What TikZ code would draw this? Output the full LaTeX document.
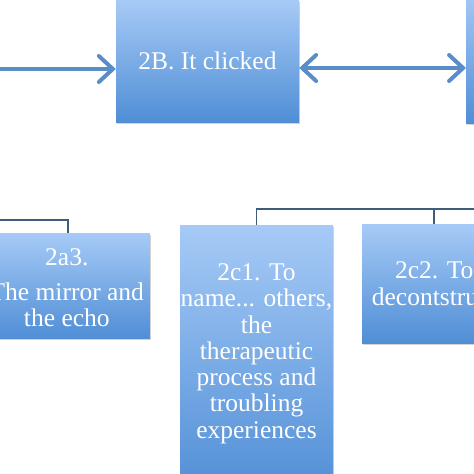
\documentclass[tikz,border=0pt]{standalone}
\usepackage{fontspec}
\setmainfont{Liberation Serif}
\usetikzlibrary{arrows.meta,positioning,shadows}
\definecolor{boxtop}{RGB}{166,202,246}
\definecolor{boxbot}{RGB}{80,142,214}
\definecolor{arrowblue}{RGB}{90,140,200}
\definecolor{treeline}{RGB}{64,92,124}
\tikzset{
  box/.style ={rectangle, top color=boxtop, bottom color=boxbot, text=white,
    align=center, inner sep=2pt, font=\fontsize{25.5}{26.3}\selectfont,
    drop shadow={opacity=0.35, shadow xshift=1pt, shadow yshift=-2pt}},
  txt/.style ={text=white, align=center, font=\fontsize{25.5}{26.3}\selectfont},
  flow/.style ={draw=arrowblue, line width=4pt},
  barb/.tip ={Straight Barb[length=14pt,width=26pt,line cap=round]},
  tree/.style ={draw=treeline, line width=1.5pt}
}

\begin{document}
\begin{tikzpicture}[x=1pt,y=-1pt]
	\useasboundingbox (0,0) rectangle (474,474);
	\clip (0,0) rectangle (474,474);
	% top row
	\node[box, minimum width=183pt, minimum height=122pt] (b2) at (207.5,61) {2B. It clicked};
	\node[box, minimum width=150pt, minimum height=133pt, anchor=north west] (r) at (466,-10) {};
	\coordinate (in) at (-10,69);
	\draw[flow, -barb] (in) -- (b2.west |- in);
	\draw[flow, barb-barb] (b2.east |- 0,68) -- (r.west |- 0,68);
	% bottom row
	\node[box, minimum width=166pt, minimum height=105pt, anchor=north east] (a3) at (150,233) {};
	\node[txt, yshift=-2pt] (a3txt) at (a3) {2a3.\\[8pt]The mirror and\\the echo};
	\node[box, minimum width=153pt, minimum height=270pt, anchor=north] (c1) at (256.5,225) {};
	\node[txt, below=35pt of c1.north, anchor=north] (c1txt) {2c1. To\\name... others,\\the\\therapeutic\\process and\\troubling\\experiences};
	\node[box, minimum width=144pt, minimum height=119pt, anchor=north west] (c2) at (362,224) {2c2. To\\decontstruct};
	% connectors
	\coordinate (a3in) at (-10,220);
	\coordinate (cin) at (490,209);
	\draw[tree] (a3in) -| (a3.north -| 68,0);
	\draw[tree] (c1.north) |- (cin);
	\draw[tree] (c2.north) -- (c2.north |- cin);
\end{tikzpicture}
\end{document}
